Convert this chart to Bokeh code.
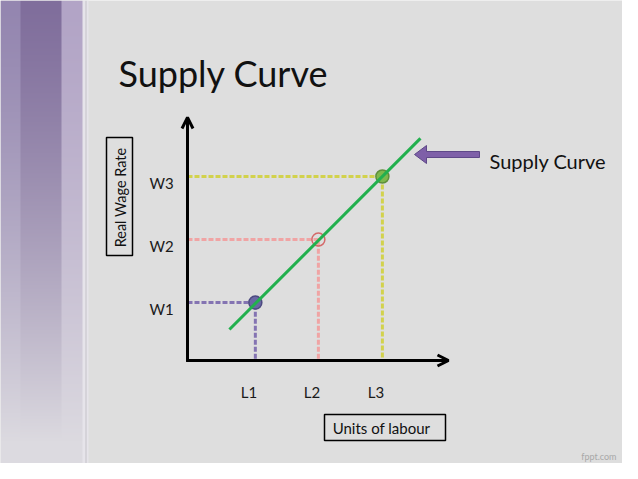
import numpy as np
from bokeh.plotting import figure
from bokeh.models import Range1d, Arrow, OpenHead, Label
from bokeh.embed import file_html
from bokeh.resources import INLINE

# ---- data ----
labour_labels = ["L1", "L2", "L3"]
wage_labels = ["W1", "W2", "W3"]
labour = [2.12, 4.09, 6.09]
wage = [1.81, 3.78, 5.75]
supply_x = [1.31, 7.28]
supply_y = [0.97, 6.94]
line_colors = ["#8474b2", "#f0a4a4", "#d2d24c"]
point_fill = ["#6a68a4", None, "#7eb84c"]
point_line = ["#4c4a80", "#d46a6a", "#5f8f3a"]

W, H = 622, 463
U = 32.0  # pixels per unit
OX, OY = 187.0, 360.0  # origin position in the picture


def X(px):
    return (px - OX) / U


def Y(py):
    return (OY - py) / U


BG = "#dedede"
p = figure(width=W, height=H, output_backend="svg", toolbar_location=None,
           x_range=Range1d(X(0), X(W)), y_range=Range1d(Y(H), Y(0)),
           min_border=0, background_fill_color=BG, border_fill_color=BG,
           outline_line_color=None)
p.axis.visible = False
p.grid.visible = False

FONT = "Lato"

# ---- left decorative band (vertical fade), drawn as an RGBA image ----
bw, bh = 88, 463
band = np.zeros((bh, bw), dtype=np.uint32)
view = band.view(dtype=np.uint8).reshape((bh, bw, 4))
cols = np.zeros((bw, 3))
for xx in range(bw):
    if xx < 20:
        c = [0x94, 0x86, 0xb0]
    elif xx < 61:
        c = [0x80, 0x6e, 0x9c]
    elif xx < 82:
        c = [0xb2, 0xa4, 0xc6]
    elif xx == 85:
        c = [0xc4, 0xc2, 0xc8]
    else:
        c = [0xe6, 0xe4, 0xea]
    cols[xx] = c
fade = np.array([0xdc, 0xda, 0xe0], dtype=float)
for yy in range(bh):
    py = bh - 1 - yy  # image rows go bottom-up
    t = min(1.0, (py / 440.0)) ** 1.3
    for xx in range(bw):
        if xx >= 82:
            rgb = cols[xx]
        else:
            rgb = cols[xx] * (1 - t) + fade * t
        view[yy, xx, 0:3] = rgb.astype(np.uint8)
        view[yy, xx, 3] = 255
p.image_rgba(image=[band], x=X(0), y=Y(bh), dw=bw / U, dh=bh / U)

# ---- title ----
p.add_layout(Label(x=X(118), y=Y(72), text="Supply Curve", text_font=FONT,
                   text_font_size="36px", text_color="#111111",
                   text_baseline="alphabetic"))

# ---- dashed guide lines ----
for i in range(3):
    p.line([0, labour[i], labour[i]], [wage[i], wage[i], 0],
           line_color=line_colors[i], line_width=3, line_dash="5 2")

# ---- points ----
for i in range(3):
    if point_fill[i] is None:
        p.scatter([labour[i]], [wage[i]], size=13, fill_alpha=0,
                  line_color=point_line[i], line_width=1.5)
    else:
        p.scatter([labour[i]], [wage[i]], size=13, fill_color=point_fill[i],
                  line_color=point_line[i], line_width=1.5)

# ---- supply line ----
p.line(supply_x, supply_y, line_color="#22b04e", line_width=3)

# ---- axes with arrowheads ----
p.add_layout(Arrow(end=OpenHead(size=11, line_width=3, line_color="black"),
                   x_start=0, y_start=-0.04, x_end=0, y_end=Y(117),
                   line_width=3, line_color="black"))
p.add_layout(Arrow(end=OpenHead(size=11, line_width=3, line_color="black"),
                   x_start=-0.04, y_start=0, x_end=X(448), y_end=0,
                   line_width=3, line_color="black"))

# ---- tick-like labels ----
for i in range(3):
    p.add_layout(Label(x=labour[i] - 0.2, y=Y(391), text=labour_labels[i],
                       text_font=FONT, text_font_size="15px",
                       text_color="#1a1a1a", text_align="center",
                       text_baseline="middle"))
    p.add_layout(Label(x=X(161), y=wage[i] - 0.2, text=wage_labels[i],
                       text_font=FONT, text_font_size="15px",
                       text_color="#1a1a1a", text_align="center",
                       text_baseline="middle"))

# ---- boxed axis titles ----
p.quad(left=X(106), right=X(132), top=Y(137), bottom=Y(255),
       fill_alpha=0, line_color="black", line_width=1.5)
p.add_layout(Label(x=X(119.5), y=Y(197), text="Real Wage Rate", angle=np.pi / 2,
                   text_font=FONT, text_font_size="14.5px", text_color="#111111",
                   text_align="center", text_baseline="middle"))
p.quad(left=X(324), right=X(445), top=Y(414), bottom=Y(440),
       fill_alpha=0, line_color="black", line_width=1.5)
p.add_layout(Label(x=X(381), y=Y(427), text="Units of labour",
                   text_font=FONT, text_font_size="15px", text_color="#111111",
                   text_align="center", text_baseline="middle"))

# ---- block arrow pointing at the curve ----
ax = [414, 426, 426, 479, 479, 426, 426]
ay = [154, 145, 151, 151, 157, 157, 163]
p.patch([X(v) for v in ax], [Y(v) for v in ay], fill_color="#7e60a8",
        line_color="#5e4888", line_width=1)
p.add_layout(Label(x=X(489), y=Y(160), text="Supply Curve", text_font=FONT,
                   text_font_size="20px", text_color="#111111",
                   text_baseline="middle"))

# ---- watermark ----
p.add_layout(Label(x=X(616), y=Y(456), text="fppt.com", text_font=FONT,
                   text_font_size="9px", text_color="#a8a8a8",
                   text_align="right", text_baseline="middle"))

open("out.html", "w").write(file_html(p, INLINE))
